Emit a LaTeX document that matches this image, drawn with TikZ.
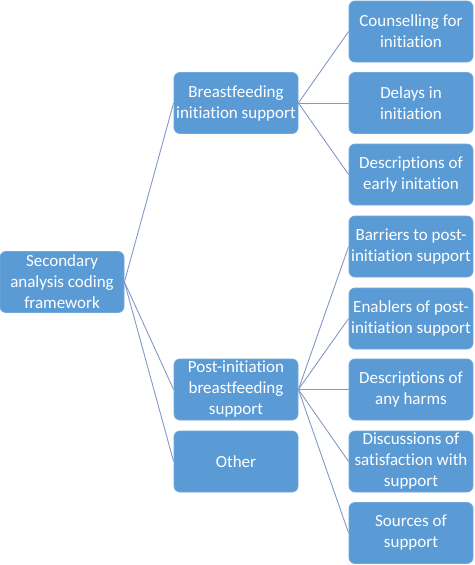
\documentclass[tikz,border=0pt]{standalone}
\usepackage{fontspec}
\setmainfont[Ligatures={NoCommon}]{Carlito}
\begin{document}
\begin{tikzpicture}[x=1pt,y=-1pt,
  box/.style={draw=boxborder,line width=0.8pt,fill=boxfill,rounded corners=6pt,
    minimum width=124pt,minimum height=61pt,inner sep=1pt,align=center,
    text=white,font=\fontsize{17}{21}\selectfont},
  link/.style={draw=linkcol,line width=0.9pt}]
\definecolor{boxfill}{HTML}{5B9BD5}
\definecolor{boxborder}{HTML}{6FA8DC}
\definecolor{linkcol}{HTML}{8498C4}
\useasboundingbox (0,0) rectangle (474,565);
\node[box] (root) at (62,282) {Secondary\\analysis coding\\framework};
\node[box] (bis) at (236,103) {Breastfeeding\\initiation support};
\node[box] (pib) at (236,389.5) {Post-initiation\\breastfeeding\\support};
\node[box] (oth) at (236,461.5) {Other};
\node[box] (c1) at (411,31.5) {Counselling for\\initiation};
\node[box] (c2) at (411,103) {Delays in\\initiation};
\node[box] (c3) at (411,174.5) {Descriptions of\\early initation};
\node[box] (c4) at (411,246.5) {Barriers to post-\\initiation support};
\node[box] (c5) at (411,318.5) {Enablers of post-\\initiation support};
\node[box] (c6) at (411,389.5) {Descriptions of\\any harms};
\node[box] (c7) at (411,461.5) {Discussions of\\satisfaction with\\support};
\node[box] (c8) at (411,533) {Sources of\\support};
\foreach \t in {bis,pib,oth} \draw[link] (root.east) -- (\t.west);
\foreach \t in {c1,c2,c3} \draw[link] (bis.east) -- (\t.west);
\foreach \t in {c4,c5,c6,c7,c8} \draw[link] (pib.east) -- (\t.west);
\end{tikzpicture}
\end{document}
